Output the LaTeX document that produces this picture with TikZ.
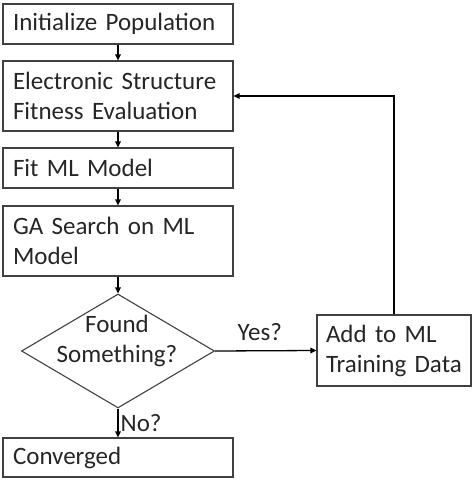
\documentclass[tikz,border=0pt]{standalone}
\usepackage{fontspec}
\setmainfont{Carlito}
\usetikzlibrary{shapes.geometric,arrows.meta}
\newcommand{\diafont}{\fontsize{25}{30}\selectfont\spaceskip=0.17em\relax}
\begin{document}
\begin{tikzpicture}[x=1pt,y=-1pt,
  box/.style={draw=black!75,line width=1.1pt,rectangle,minimum width=230pt,text width=210pt,align=left,inner sep=0pt,font=\diafont,text=black!85},
  sidebox/.style={box,minimum width=154pt,text width=136pt},
  decbox/.style={draw=black!75,line width=1.1pt,diamond,minimum width=193pt,minimum height=114pt,shape aspect=1.693,inner sep=0pt},
  flow/.style={draw=black,line width=1.3pt,-{Triangle[length=6pt,width=5.5pt]}},
  lbl/.style={font=\diafont,text=black!85,inner sep=2pt}]
\useasboundingbox (0,0) rectangle (474,481);
\node[box,minimum height=40pt] (b1) at (118,24) {Initialize Population};
\node[box,minimum height=70pt] (b2) at (118,96) {Electronic Structure\\Fitness Evaluation};
\node[box,minimum height=40pt] (b3) at (118,168) {Fit ML Model};
\node[box,minimum height=70pt] (b4) at (118,241) {GA Search on ML\\Model};
\node[decbox] (dec) at (118,351) {};
\node[lbl,align=center] (dect) at (117,341) {Found\\Something?};
\node[box,minimum height=39pt] (conv) at (118,457.5) {Converged};
\node[sidebox,minimum height=71pt] (add) at (394,350.5) {Add to ML\\Training Data};
\draw[flow] (b1) -- (b2);
\draw[flow] (b2) -- (b3);
\draw[flow] (b3) -- (b4);
\draw[flow] (b4) -- (dec.north);
\draw[flow] (dec.south) -- node[lbl,anchor=west] (no) {No?} (conv);
\draw[flow] (dec.east) -- node[lbl,anchor=south,xshift=-6pt,yshift=7pt] (yes) {Yes?} (add.west);
\draw[flow] (add.north) |- (b2.east);
\end{tikzpicture}
\end{document}
